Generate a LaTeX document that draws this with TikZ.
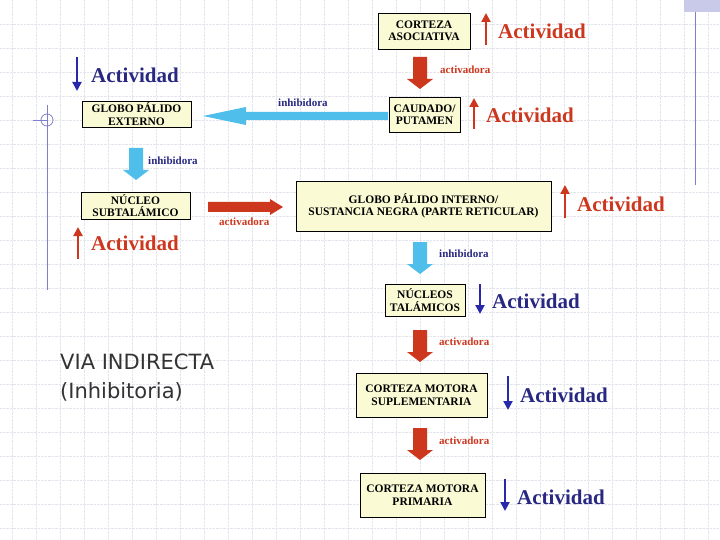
\documentclass[tikz,border=0pt]{standalone}
\usepackage{fontspec}
\setmainfont{Liberation Serif}
\newfontfamily\dejavu{DejaVu Sans}
\usetikzlibrary{arrows.meta}
\definecolor{boxy}{RGB}{250,250,212}
\definecolor{rd}{RGB}{205,55,30}
\definecolor{nv}{RGB}{40,40,130}
\definecolor{cy}{RGB}{80,190,235}
\definecolor{bl}{RGB}{40,40,170}
\definecolor{gridc}{RGB}{228,228,236}
\tikzset{
 box/.style={draw=black,fill=boxy,line width=0.8pt,align=center,inner sep=0pt,font=\bfseries\fontsize{11.5}{12.5}\selectfont},
 act/.style={anchor=west,font=\bfseries\fontsize{21}{22}\selectfont,inner sep=0pt},
 lab/.style={anchor=west,font=\bfseries\fontsize{11}{12}\selectfont,inner sep=0pt},
 thin/.style={line width=2pt,-{Triangle[length=9pt,width=9pt]}}
}
\newcommand{\downblk}[4]{% color, x, ytop, ybottom
 \fill[#1] (#2-7,#3) -- (#2+7,#3) -- (#2+7,#4-10) -- (#2+13,#4-10) -- (#2,#4) -- (#2-13,#4-10) -- (#2-7,#4-10) -- cycle;}
\begin{document}
\begin{tikzpicture}[x=1pt,y=-1pt]
\useasboundingbox (0,0) rectangle (720,540);
\fill[white] (0,0) rectangle (720,540);
\foreach \y in {1,...,22} \draw[gridc,densely dotted,line width=0.4pt] (0,\y*24) -- (720,\y*24);
\foreach \x in {0,...,29} \draw[gridc,densely dotted,line width=0.4pt] (\x*24+12,0) -- (\x*24+12,540);
\draw[bl!60,line width=0.8pt] (47,105) -- (47,290);
\draw[bl!60,line width=0.8pt] (33,120) -- (47,120);
\draw[bl!60,line width=0.8pt] (47,120) circle (6);
\draw[bl!60,line width=0.8pt] (695,0) -- (695,185);
\fill[bl!25] (684,0) rectangle (720,12);
% boxes
\node[box,minimum width=92,minimum height=36] (ca) at (424,31) {CORTEZA\\ASOCIATIVA};
\node[box,minimum width=71,minimum height=35] (cp) at (424.5,114.5) {CAUDADO/\\PUTAMEN};
\node[box,minimum width=109,minimum height=26] (gpe) at (136.5,114) {GLOBO PÁLIDO\\EXTERNO};
\node[box,minimum width=109,minimum height=27] (nst) at (135.5,205.5) {NÚCLEO\\SUBTALÁMICO};
\node[box,minimum width=255,minimum height=50] (gpi) at (423.5,206) {GLOBO PÁLIDO INTERNO/\\SUSTANCIA NEGRA (PARTE RETICULAR)};
\node[box,minimum width=80,minimum height=32] (nt) at (425,300) {NÚCLEOS\\TALÁMICOS};
\node[box,minimum width=131,minimum height=44] (cms) at (421.5,395) {CORTEZA MOTORA\\SUPLEMENTARIA};
\node[box,minimum width=125,minimum height=44] (cmp) at (422.5,495) {CORTEZA MOTORA\\PRIMARIA};
% block arrows
\downblk{rd}{420}{57}{89}
\fill[cy] (388,112) -- (246,112) -- (246,107) -- (203,116) -- (246,125) -- (246,120) -- (388,120) -- cycle;
\downblk{cy}{136}{148}{180}
\fill[rd] (208,202) -- (270,202) -- (270,199) -- (283,207) -- (270,215) -- (270,212) -- (208,212) -- cycle;
\downblk{cy}{420}{242}{274}
\downblk{rd}{420}{330}{362}
\downblk{rd}{420}{428}{460}
% arrow labels
\node[lab,rd] (l1) at (440,70) {activadora};
\node[lab,nv] (l2) at (278,103) {inhibidora};
\node[lab,nv] (l3) at (148,161) {inhibidora};
\node[lab,rd] (l4) at (219,222) {activadora};
\node[lab,nv] (l5) at (439,254) {inhibidora};
\node[lab,rd] (l6) at (439,342) {activadora};
\node[lab,rd] (l7) at (439,441) {activadora};
% actividad
\coordinate (u1a) at (486,45); \coordinate (u1b) at (486,13);
\draw[thin,rd] (u1a) -- (u1b); \node[act,rd] (t1) at (498,31) {Actividad};
\coordinate (d2a) at (77,57); \coordinate (d2b) at (77,91);
\draw[thin,bl] (d2a) -- (d2b); \node[act,nv] (t2) at (91,75) {Actividad};
\coordinate (u3a) at (474,129); \coordinate (u3b) at (474,98);
\draw[thin,rd] (u3a) -- (u3b); \node[act,rd] (t3) at (486,115) {Actividad};
\coordinate (u4a) at (78,259); \coordinate (u4b) at (78,227);
\draw[thin,rd] (u4a) -- (u4b); \node[act,rd] (t4) at (91,243) {Actividad};
\coordinate (u5a) at (565,218); \coordinate (u5b) at (565,185);
\draw[thin,rd] (u5a) -- (u5b); \node[act,rd] (t5) at (577,204) {Actividad};
\coordinate (d6a) at (480,284); \coordinate (d6b) at (480,314);
\draw[thin,bl] (d6a) -- (d6b); \node[act,nv] (t6) at (492,301) {Actividad};
\coordinate (d7a) at (508,376); \coordinate (d7b) at (508,410);
\draw[thin,bl] (d7a) -- (d7b); \node[act,nv] (t7) at (520,395) {Actividad};
\coordinate (d8a) at (505,479); \coordinate (d8b) at (505,511);
\draw[thin,bl] (d8a) -- (d8b); \node[act,nv] (t8) at (517,497) {Actividad};
\node[anchor=north west,align=left,inner sep=0pt,font=\dejavu\fontsize{21}{29}\selectfont,text=black!80] (via) at (60,354) {VIA INDIRECTA\\(Inhibitoria)};
\end{tikzpicture}
\end{document}
